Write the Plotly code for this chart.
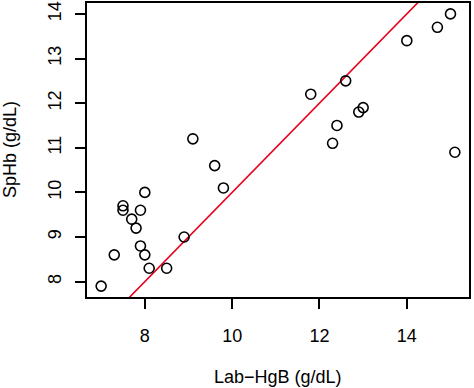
import plotly.graph_objects as go

lab_hgb = [7.0, 7.3, 7.5, 7.5, 7.7, 7.8, 7.9, 8.0, 7.9, 8.0, 8.1,
           8.5, 8.9, 9.6, 9.8, 9.1,
           11.8, 12.6, 13.0, 12.9, 12.4, 12.3, 14.0, 14.7, 15.0, 15.1]
sphb = [7.9, 8.6, 9.7, 9.6, 9.4, 9.2, 9.6, 10.0, 8.8, 8.6, 8.3,
        8.3, 9.0, 10.6, 10.1, 11.2,
        12.2, 12.5, 11.9, 11.8, 11.5, 11.1, 13.4, 13.7, 14.0, 10.9]
line_x = [6.0, 16.0]
line_y = [6.0, 16.0]
x_ticks = [8, 10, 12, 14]
y_ticks = [8, 9, 10, 11, 12, 13, 14]

FONT = "Liberation Sans, Arial, Helvetica, sans-serif"

fig = go.Figure()
fig.add_trace(go.Scatter(x=line_x, y=line_y, mode="lines",
                         line=dict(color="#e8001c", width=1.6), hoverinfo="skip"))
fig.add_trace(go.Scatter(x=lab_hgb, y=sphb, mode="markers",
                         marker=dict(symbol="circle-open", size=10,
                                     color="black", line=dict(width=1.6))))

axis_common = dict(showgrid=False, zeroline=False, showline=True, mirror=True,
                   linecolor="black", linewidth=1.6, ticks="outside",
                   ticklen=10, tickwidth=1.5, tickcolor="black", automargin=False,
                   tickfont=dict(family=FONT, size=18, color="black"))

fig.update_layout(
    width=474, height=388,
    margin=dict(l=87, r=5, t=3, b=91),
    paper_bgcolor="white", plot_bgcolor="white",
    showlegend=False,
    xaxis=dict(range=[6.676, 15.424], tickvals=x_ticks, ticklabelstandoff=12, **axis_common),
    yaxis=dict(range=[7.656, 14.244], tickvals=y_ticks, tickangle=-90, ticklabelstandoff=7, **axis_common),
    annotations=[
        dict(text="Lab\u2212HgB (g/dL)", xref="paper", yref="paper", x=0.5, y=0,
             yanchor="middle", xanchor="center", yshift=-80, showarrow=False,
             font=dict(family=FONT, size=18, color="black")),
        dict(text="SpHb (g/dL)", xref="paper", yref="paper", x=0, y=0.5,
             xanchor="center", yanchor="middle", xshift=-77, textangle=-90, showarrow=False,
             font=dict(family=FONT, size=18, color="black")),
    ],
)

fig.write_html("out.html", config={"displayModeBar": False},
               post_script="document.body.style.margin='0';document.body.style.overflow='hidden';")
